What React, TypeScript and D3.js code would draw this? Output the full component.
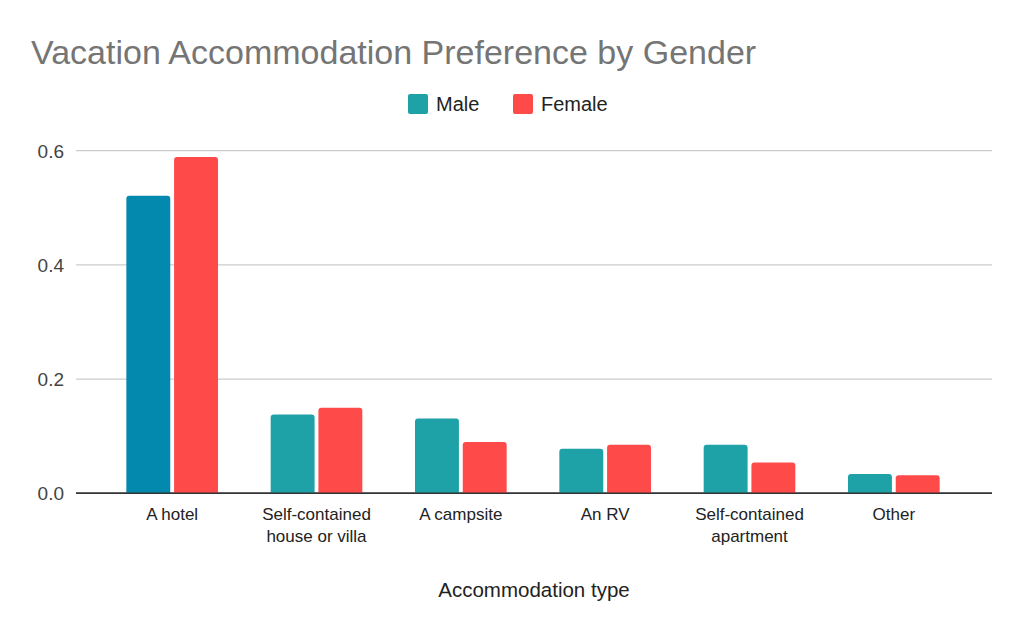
import { useEffect, useRef } from "react";
import * as d3 from "d3";

const categories = [
  ["A hotel"],
  ["Self-contained", "house or villa"],
  ["A campsite"],
  ["An RV"],
  ["Self-contained", "apartment"],
  ["Other"],
];
const series = ["Male", "Female"];
const maleValues = [0.521, 0.138, 0.131, 0.078, 0.085, 0.034];
const femaleValues = [0.589, 0.15, 0.09, 0.085, 0.054, 0.0315];
const yTicks = [0, 0.2, 0.4, 0.6];

const WIDTH = 1024;
const HEIGHT = 633;
const FONT = "'Liberation Sans', Arial, sans-serif";
const TEAL = "#1fa2a7";
const HOTEL_BLUE = "#0289ad";
const RED = "#ff4a4a";

// bar with only the top corners rounded
function topRounded(x: number, y: number, w: number, h: number, r: number) {
  const rr = Math.min(r, h, w / 2);
  return `M${x},${y + h}V${y + rr}Q${x},${y} ${x + rr},${y}H${x + w - rr}Q${x + w},${y} ${x + w},${y + rr}V${y + h}Z`;
}

export default function App() {
  const svgRef = useRef<SVGSVGElement | null>(null);

  useEffect(() => {
    if (!svgRef.current) return;
    const svg = d3.select(svgRef.current);
    svg.selectAll("*").remove();

    svg.append("rect").attr("width", WIDTH).attr("height", HEIGHT).attr("fill", "#fff");

    const keys = categories.map((c) => c.join(" "));
    const x0 = d3
      .scaleBand<string>()
      .domain(keys)
      .range([100, 966])
      .paddingInner(0.365)
      .paddingOuter(0.1825);
    const x1 = d3.scaleBand<string>().domain(series).range([0, x0.bandwidth()]).paddingInner(0.08);
    const y = d3.scaleLinear().domain([0, 0.6]).range([493.3, 150.7]);

    // title
    svg
      .append("text")
      .attr("x", 31)
      .attr("y", 64)
      .attr("font-family", FONT)
      .attr("font-size", 34)
      .attr("fill", "#757575")
      .text("Vacation Accommodation Preference by Gender");

    // legend
    const legend = svg.append("g").attr("font-family", FONT).attr("font-size", 20).attr("fill", "#222");
    const legendItems = [
      { name: series[0], color: TEAL, x: 408 },
      { name: series[1], color: RED, x: 513 },
    ];
    legendItems.forEach((it) => {
      legend
        .append("rect")
        .attr("x", it.x)
        .attr("y", 94)
        .attr("width", 20)
        .attr("height", 20)
        .attr("rx", 2)
        .attr("fill", it.color);
      legend
        .append("text")
        .attr("x", it.x + 28)
        .attr("y", 111)
        .text(it.name);
    });

    // grid + y labels
    const grid = svg.append("g");
    yTicks.forEach((t) => {
      grid
        .append("line")
        .attr("x1", 76)
        .attr("x2", 992)
        .attr("y1", y(t))
        .attr("y2", y(t))
        .attr("stroke", t === 0 ? "#333" : "#cccccc")
        .attr("stroke-width", t === 0 ? 1.5 : 1.2);
      grid
        .append("text")
        .attr("x", 64)
        .attr("y", y(t) + 7)
        .attr("text-anchor", "end")
        .attr("font-family", FONT)
        .attr("font-size", 19)
        .attr("fill", "#444")
        .text(d3.format(".1f")(t));
    });

    // bars
    const bars = svg.append("g");
    keys.forEach((k, i) => {
      const vals = [maleValues[i], femaleValues[i]];
      series.forEach((s, j) => {
        const bx = (x0(k) ?? 0) + (x1(s) ?? 0);
        const by = y(vals[j]);
        const color = j === 1 ? RED : i === 0 ? HOTEL_BLUE : TEAL;
        bars
          .append("path")
          .attr("d", topRounded(bx, by, x1.bandwidth(), y(0) - by, 3))
          .attr("fill", color);
      });
    });

    // redraw baseline on top of bars
    svg
      .append("line")
      .attr("x1", 76)
      .attr("x2", 992)
      .attr("y1", y(0))
      .attr("y2", y(0))
      .attr("stroke", "#333")
      .attr("stroke-width", 1.5);

    // category labels
    const catG = svg.append("g").attr("font-family", FONT).attr("font-size", 17).attr("fill", "#222");
    categories.forEach((lines, i) => {
      const cx = (x0(keys[i]) ?? 0) + x0.bandwidth() / 2;
      const txt = catG.append("text").attr("text-anchor", "middle");
      lines.forEach((ln, li) => {
        txt
          .append("tspan")
          .attr("x", cx)
          .attr("y", 520 + li * 22)
          .text(ln);
      });
    });

    svg
      .append("text")
      .attr("x", 534)
      .attr("y", 597)
      .attr("text-anchor", "middle")
      .attr("font-family", FONT)
      .attr("font-size", 20.5)
      .attr("fill", "#222")
      .text("Accommodation type");
  }, []);

  return (
    <div style={{ margin: -8 }}>
      <svg ref={svgRef} width={WIDTH} height={HEIGHT} style={{ display: "block" }} />
    </div>
  );
}
